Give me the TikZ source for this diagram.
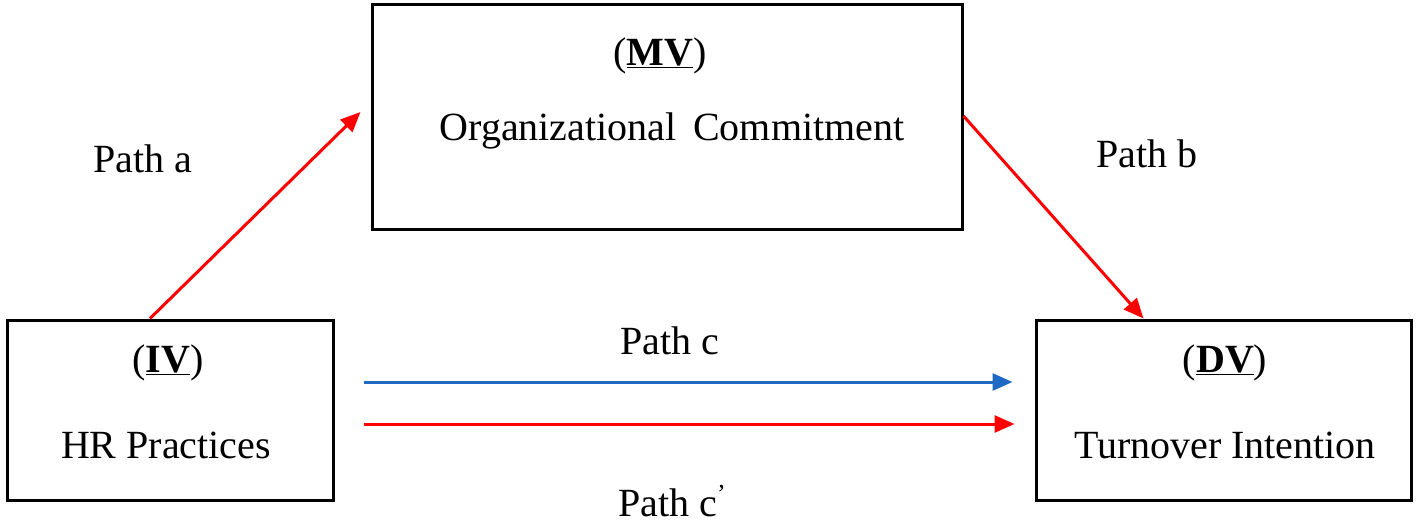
\documentclass[tikz,border=0pt]{standalone}
\usepackage{fontspec}
\setmainfont{Liberation Serif}
\usetikzlibrary{arrows.meta}
\definecolor{arrred}{RGB}{255,0,0}
\definecolor{arrblue}{RGB}{30,105,195}
\begin{document}
\begin{tikzpicture}[x=1pt,y=-1pt,
  box/.style={draw=black,line width=3pt,rectangle,inner sep=0pt},
  lbl/.style={anchor=base,inner sep=0pt,font=\fontsize{40}{48}\selectfont},
  conn/.style={line width=3pt,-{Triangle[length=20pt,width=17pt]}}]
\useasboundingbox (0,0) rectangle (1417,525);
% boxes
\node[box,minimum width=590pt,minimum height=225pt] (mv) at (667,117) {};
\node[box,minimum width=326pt,minimum height=180pt] (iv) at (170,410) {};
\node[box,minimum width=375pt,minimum height=180pt] (dv) at (1223.5,410) {};
% box texts
\node[lbl] (mvtag) at (660,65) {(\underline{\textbf{MV}})};
\node[lbl] (mvtxt) at (672,140) {Organizational\, Commitment};
\node[lbl] (ivtag) at (168,372) {(\underline{\textbf{IV}})};
\node[lbl] (ivtxt) at (166,458) {HR Practices};
\node[lbl] (dvtag) at (1225,372) {(\underline{\textbf{DV}})};
\node[lbl] (dvtxt) at (1225,458) {Turnover Intention};
% path labels
\node[lbl] (pa) at (143,172) {Path a};
\node[lbl] (pb) at (1147,167) {Path b};
\node[lbl] (pc) at (670,354) {Path c};
\node[lbl] (pcp) at (672,516) {Path c\raisebox{14pt}{\fontsize{26}{26}\selectfont ’}};
% connectors
\draw[conn,arrred] ([xshift=-20pt]iv.north) -- ([xshift=-10pt,yshift=5pt]mv.west);
\draw[conn,arrred] ([yshift=1pt]mv.east) -- ([xshift=-80pt]dv.north);
\draw[conn,arrblue] ([xshift=29pt,yshift=28pt]iv.east) -- ([xshift=-22pt,yshift=28pt]dv.west);
\draw[conn,arrred] ([xshift=29pt,yshift=-14pt]iv.east) -- ([xshift=-20pt,yshift=-14pt]dv.west);
\end{tikzpicture}
\end{document}
